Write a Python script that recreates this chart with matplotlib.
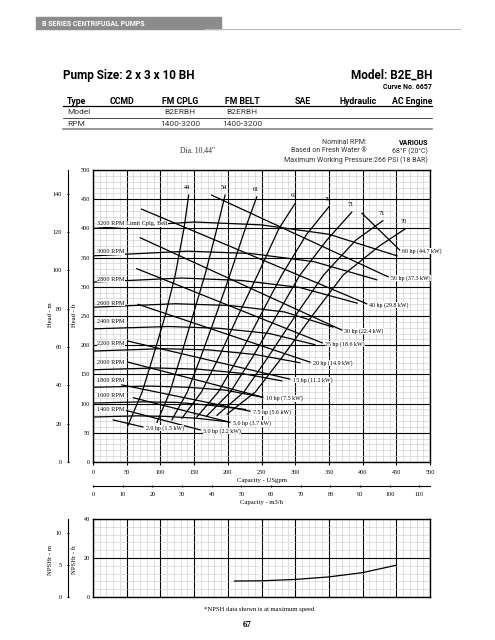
import numpy as np
import matplotlib.pyplot as plt
from matplotlib.ticker import MultipleLocator

# speed curves (gpm, ft)
rpm_labels = ['3200 RPM Limit Cplg, Belt', '3000 RPM', '2800 RPM', '2600 RPM', '2400 RPM',
              '2200 RPM', '2000 RPM', '1800 RPM', '1600 RPM', '1400 RPM']
rpm_label_y = [408, 360, 313, 272, 240, 203, 170, 139, 114, 90]
speed_q = [[0, 150, 250, 350, 451], [0, 141, 234, 328, 421], [0, 131, 219, 306, 392],
           [0, 122, 203, 284, 356], [0, 112, 187, 262, 329], [0, 103, 172, 241, 307],
           [0, 94, 156, 219, 280], [0, 84, 141, 197, 251], [0, 75, 125, 175, 226],
           [0, 66, 109, 153, 200]]
speed_h = [[400, 411, 406, 390, 353], [353, 361, 357, 343, 312], [308, 315, 311, 299, 272],
           [265, 271, 268, 257, 231], [228, 232, 229, 220, 201], [190, 194, 192, 184, 170],
           [158, 161, 159, 152, 139], [128, 130, 128, 123, 111], [101, 103, 102, 97, 90],
           [77, 79, 78, 75, 69]]

# efficiency lines
eff_labels = ['44', '54', '61', '67', '70', '71', '71', '70']
eff_q = [[52, 73, 89, 107, 122, 135, 142], [95, 114, 130, 148, 166, 184, 196],
         [117, 140, 160, 182, 203, 226, 243], [132, 161, 187, 215, 244, 276, 300],
         [154, 186, 216, 248, 280, 317, 350], [169, 204, 237, 272, 307, 347, 384],
         [184, 224, 260, 300, 342, 390, 430], [199, 241, 281, 325, 371, 425, 463]]
eff_h = [[63, 120, 180, 250, 320, 400, 457], [68, 120, 180, 250, 320, 400, 457],
         [72, 120, 180, 250, 320, 400, 454], [75, 120, 180, 250, 320, 400, 443],
         [77, 120, 180, 250, 320, 390, 437], [79, 120, 180, 250, 320, 380, 428],
         [80, 120, 180, 250, 320, 380, 413], [82, 120, 180, 250, 320, 370, 399]]

# power lines: start (q, h), end (q, h)
hp_labels = ['60 hp (44.7 kW)', '50 hp (37.3 kW)', '40 hp (29.8 kW)', '30 hp (22.4 kW)',
             '25 hp (18.6 kW)', '20 hp (14.9 kW)', '15 hp (11.2 kW)', '10 hp (7.5 kW)',
             '7.5 hp (5.6 kW)', '5.0 hp (3.7 kW)', '3.0 hp (2.2 kW)', '2.0 hp (1.5 kW)']
hp_q0 = [399, 176, 72, 70, 65, 67, 52, 52, 43, 60, 50, 30]
hp_h0 = [426, 457, 433, 384, 331, 270, 207, 171, 132, 110, 88, 72]
hp_q1 = [455, 438, 406, 369, 340, 322, 292, 252, 233, 203, 159, 74]
hp_h1 = [363, 317, 271, 226, 204, 171, 142, 111, 87, 68, 55, 60]

npsh_q = [210, 250, 300, 350, 400, 450]
npsh_h = [8.2, 8.3, 9.0, 10.3, 12.5, 16.3]

serif = 'Liberation Serif'
sans = 'Roboto'

fig = plt.figure(figsize=(4.95, 6.40), dpi=100)
W, H = 495, 640

def fx(px):
    return px / W

def fy(py):
    return 1 - py / H

# header
fig.patches.append(plt.Rectangle((fx(36), fy(29)), fx(185), 12 / H, transform=fig.transFigure,
                                 color='#8c8c8c', zorder=0))
fig.text(fx(42), fy(23.5), 'B SERIES CENTRIFUGAL PUMPS', color='white', fontsize=5,
         fontweight='bold', family=sans, va='center')
fig.add_artist(plt.Line2D([fx(205), fx(460)], [fy(29), fy(29)], color='#bbbbbb', lw=0.8))
fig.text(fx(63), fy(75), 'Pump Size: 2 x 3 x 10 BH', fontsize=8.5, fontweight='bold', family=sans, va='center')
fig.text(fx(432), fy(75), 'Model: B2E_BH', fontsize=8.5, fontweight='bold', family=sans, va='center', ha='right')
fig.text(fx(432), fy(87), 'Curve No. 6657', fontsize=5, fontweight='bold', family=sans, va='center', ha='right')
heads = [('Type', 67, 'left'), ('CCMD', 122, 'center'), ('FM CPLG', 180, 'center'),
         ('FM BELT', 242, 'center'), ('SAE', 303, 'center'), ('Hydraulic', 358, 'center'),
         ('AC Engine', 432, 'right')]
for t, x, ha in heads:
    fig.text(fx(x), fy(101), t, fontsize=6.3, fontweight='bold', family=sans, va='center', ha=ha)
for t, x, y in [('Model', 67, 112), ('RPM', 67, 124), ('B2ERBH', 180, 112), ('B2ERBH', 242, 112),
                ('1400-3200', 180, 124), ('1400-3200', 242, 124)]:
    fig.text(fx(x), fy(y), t, fontsize=6, family=sans, va='center', ha='left' if x == 67 else 'center',
             color='#333333')
fig.add_artist(plt.Line2D([fx(63), fx(432)], [fy(106), fy(106)], color='black', lw=0.9))
fig.add_artist(plt.Line2D([fx(63), fx(432)], [fy(118), fy(118)], color='black', lw=0.5))
fig.add_artist(plt.Line2D([fx(63), fx(432)], [fy(129), fy(129)], color='#888888', lw=1.2))

fig.text(fx(180), fy(151), 'Dia. 10.44"', fontsize=5.5, family=serif, va='center', color='#333333')
fig.text(fx(367), fy(143), 'Nominal RPM:', fontsize=5, family=sans, va='center', ha='right', color='#333333')
fig.text(fx(367), fy(151), 'Based on Fresh Water ®', fontsize=5, family=sans, va='center', ha='right', color='#333333')
fig.text(fx(428), fy(160), 'Maximum Working Pressure:266 PSI (18 BAR)', fontsize=5, family=sans,
         va='center', ha='right', color='#333333')
fig.text(fx(428), fy(143), 'VARIOUS', fontsize=5, fontweight='bold', family=sans, va='center', ha='right')
fig.text(fx(428), fy(151), '68°F (20°C)', fontsize=5, family=sans, va='center', ha='right', color='#333333')

# main chart
ax = fig.add_axes([fx(93), fy(462), fx(337), 292 / H])
ax.set_xlim(0, 500)
ax.set_ylim(0, 500)
ax.xaxis.set_major_locator(MultipleLocator(50))
ax.yaxis.set_major_locator(MultipleLocator(50))
ax.xaxis.set_minor_locator(MultipleLocator(10))
ax.yaxis.set_minor_locator(MultipleLocator(10))
ax.grid(which='minor', color='#c8c8c8', lw=0.4)
ax.grid(which='major', color='black', lw=0.8)
ax.tick_params(which='both', length=0, labelsize=4.5, pad=2)
ax.tick_params(axis='x', which='major', length=2, direction='out', pad=4)
for lbl in ax.get_xticklabels() + ax.get_yticklabels():
    lbl.set_family(serif)
for s in ax.spines.values():
    s.set_linewidth(1.0)
ax.set_axisbelow(True)

for q, h in zip(speed_q, speed_h):
    ax.plot(q, h, color='black', lw=0.9, zorder=3)
for t, y in zip(rpm_labels, rpm_label_y):
    ax.text(6, y, t, fontsize=4.5, family=serif, va='center', zorder=5,
            bbox=dict(facecolor='white', edgecolor='none', pad=0.3))
for q, h, t in zip(eff_q, eff_h, eff_labels):
    ax.plot(q, h, color='black', lw=0.9, zorder=3)
    ax.text(q[-1] - 2, h[-1] + 10, t, fontsize=4.5, family=serif, ha='center', zorder=5)
for t, a, b, c, d in zip(hp_labels, hp_q0, hp_h0, hp_q1, hp_h1):
    ax.plot([a, c], [b, d], color='black', lw=0.9, zorder=3)
    ax.text(c + 4, d - 2, t, fontsize=4.3, family=serif, va='center', zorder=5,
            bbox=dict(facecolor='white', edgecolor='none', pad=0.2))
ax.set_xlabel('Capacity - USgpm', fontsize=4.8, family=serif, labelpad=2)

sy = ax.secondary_yaxis(-0.074, functions=(lambda f: f * 0.3048, lambda m: m / 0.3048))
sy.set_yticks(range(0, 141, 20))
sy.tick_params(labelsize=4.5, length=2, direction='inout')
for lbl in sy.get_yticklabels():
    lbl.set_family(serif)
fig.text(fx(50), fy(315), 'Head - m', fontsize=4.8, family=serif, rotation=90, ha='center', va='center')
fig.text(fx(74), fy(315), 'Head - ft', fontsize=4.8, family=serif, rotation=90, ha='center', va='center')

sx = ax.secondary_xaxis(-0.082, functions=(lambda g: g * 0.2271, lambda m: m / 0.2271))
sx.set_xticks(range(0, 111, 10))
sx.tick_params(labelsize=4.5, length=2, direction='inout')
for lbl in sx.get_xticklabels():
    lbl.set_family(serif)
sx.set_xlabel('Capacity - m3/h', fontsize=4.8, family=serif, labelpad=2)

# NPSH chart
ax2 = fig.add_axes([fx(93), fy(597), fx(337), 78 / H])
ax2.set_xlim(0, 500)
ax2.set_ylim(0, 40)
ax2.xaxis.set_major_locator(MultipleLocator(50))
ax2.yaxis.set_major_locator(MultipleLocator(20))
ax2.xaxis.set_minor_locator(MultipleLocator(10))
ax2.yaxis.set_minor_locator(MultipleLocator(4))
ax2.grid(which='minor', color='#c8c8c8', lw=0.4)
ax2.grid(which='major', color='black', lw=0.8)
ax2.tick_params(which='both', length=0, labelsize=4.5, labelbottom=False, pad=2)
for lbl in ax2.get_yticklabels():
    lbl.set_family(serif)
for s in ax2.spines.values():
    s.set_linewidth(1.0)
ax2.set_axisbelow(True)
ax2.plot(npsh_q, npsh_h, color='black', lw=0.9)

sy2 = ax2.secondary_yaxis(-0.074, functions=(lambda f: f * 0.3048, lambda m: m / 0.3048))
sy2.set_yticks([0, 5, 10])
sy2.tick_params(labelsize=4.5, length=2, direction='inout')
for lbl in sy2.get_yticklabels():
    lbl.set_family(serif)
fig.text(fx(50), fy(560), 'NPSHr - m', fontsize=4.8, family=serif, rotation=90, ha='center', va='center')
fig.text(fx(75), fy(560), 'NPSHr - ft', fontsize=4.8, family=serif, rotation=90, ha='center', va='center')

fig.text(fx(259), fy(610), '*NPSH data shown is at maximum speed', fontsize=4.8, family=serif,
         ha='center', va='center')
fig.text(fx(247), fy(625), '67', fontsize=6.5, family=serif, fontweight='bold', ha='center', va='center')

fig.savefig('out.png', dpi=100)
